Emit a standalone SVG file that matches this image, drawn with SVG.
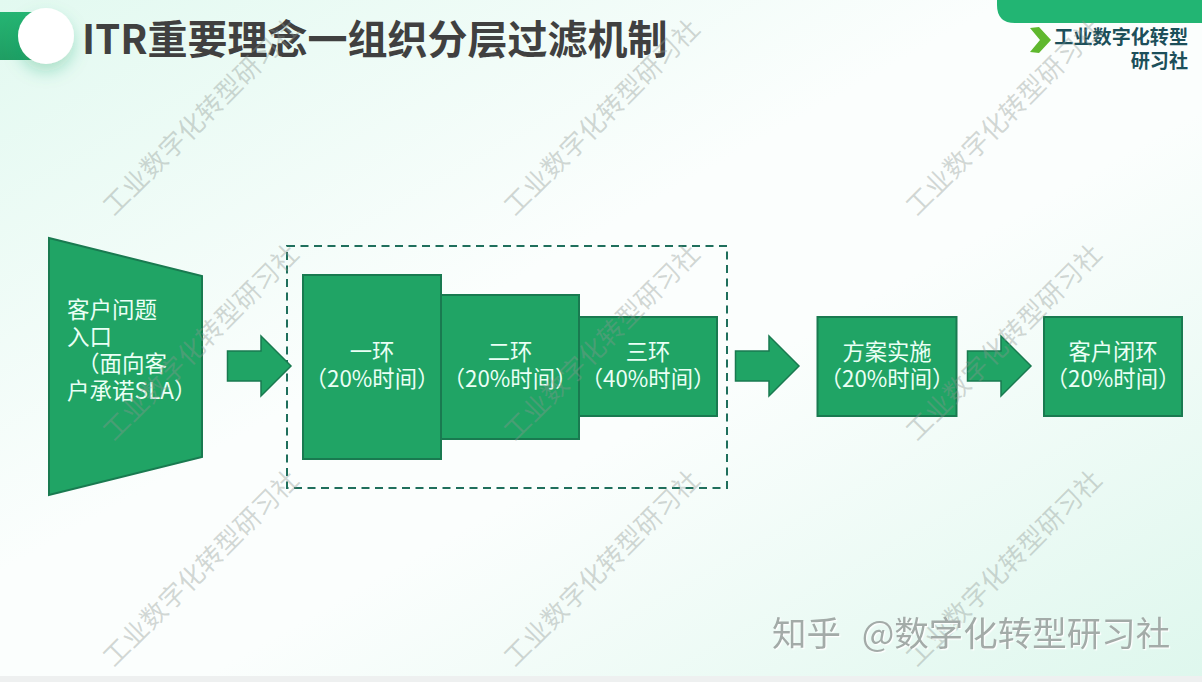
<svg xmlns="http://www.w3.org/2000/svg" width="1202" height="682" viewBox="0 0 1202 682">
  <defs>
    <linearGradient id="bg" x1="0" y1="0" x2="1" y2="1">
      <stop offset="0" stop-color="#e2f9f0"/>
      <stop offset="0.42" stop-color="#fbfefd"/>
      <stop offset="0.58" stop-color="#fbfefd"/>
      <stop offset="1" stop-color="#def7ed"/>
    </linearGradient>
    <linearGradient id="tab" x1="0" y1="0" x2="0" y2="1">
      <stop offset="0" stop-color="#25b573"/>
      <stop offset="1" stop-color="#1f9e63"/>
    </linearGradient>
    <filter id="soft" x="-50%" y="-50%" width="200%" height="220%">
      <feDropShadow dx="0" dy="8" stdDeviation="8" flood-color="#1fa56a" flood-opacity="0.3"/>
    </filter>
    <filter id="emboss" x="-5%" y="-20%" width="110%" height="140%">
      <feDropShadow dx="1.2" dy="1.2" stdDeviation="0.3" flood-color="#ffffff" flood-opacity="0.95"/>
    </filter>
    <style>
      text { font-family: "Noto Sans CJK SC", "Noto Sans", sans-serif; }
      .box { fill: #20a465; stroke: #197a50; stroke-width: 2; }
      .arrow { fill: #20a465; stroke: #197a50; stroke-width: 1.5; }
      .lbl { fill: #eafff5; font-size: 22.3px; text-anchor: middle; }
      .lbll { fill: #eafff5; font-size: 22.5px; }
      .wm { fill: #8d9691; fill-opacity: 0.38; font-size: 26px; letter-spacing: 0.4px; }
      .brand { fill: #1c4f5a; font-size: 19.1px; font-weight: 700; text-anchor: end; }
    </style>
  </defs>

  <rect id="background" width="1202" height="682" fill="url(#bg)"/>
  <rect id="bottom-strip" x="0" y="676" width="1202" height="6" fill="#eef0f0"/>

  <g id="header">
    <rect x="0" y="12" width="40" height="48" fill="url(#tab)"/>
    <circle cx="46" cy="36" r="28" fill="#ffffff" filter="url(#soft)"/>
    <text x="82" y="54" font-size="40" font-weight="700" fill="#404040">ITR重要理念一组织分层过滤机制</text>
  </g>

  <g id="brand">
    <path d="M997 0H1202V23H1015Q997 23 997 5Z" fill="#22b573"/>
    <polygon points="1030,28 1039,27 1051,40 1039,53 1030,52 1040,40" fill="#5fb82e"/>
    <text class="brand" x="1188" y="44">工业数字化转型</text>
    <text class="brand" x="1188" y="68">研习社</text>
  </g>

  <g id="group-frame">
    <rect x="287" y="246" width="440" height="242" fill="none" stroke="#1f6f5c" stroke-width="2" stroke-dasharray="8 5.5"/>
  </g>

  <g id="connectors">
    <polygon class="arrow" points="227.5,351 261,351 261,336 291,366 261,396 261,381 227.5,381"/>
    <polygon class="arrow" points="735.5,351 769,351 769,336 799,366 769,396 769,381 735.5,381"/>
    <polygon class="arrow" points="967.5,351 1001,351 1001,336 1031,366 1001,396 1001,381 967.5,381"/>
  </g>

  <g id="node-entry">
    <polygon class="box" points="49,238 202,276 202,457 49,495"/>
    <text class="lbll" x="67" y="318">客户问题</text>
    <text class="lbll" x="67" y="345">入口</text>
    <text class="lbll" x="67" y="372" xml:space="preserve">  （面向客</text>
    <text class="lbll" x="67" y="399">户承诺SLA）</text>
  </g>
  <g id="node-ring3">
    <rect class="box" x="579" y="317" width="138" height="99"/>
    <text class="lbl" x="648" y="360">三环</text>
    <text class="lbl" x="648" y="387">（40%时间）</text>
  </g>
  <g id="node-ring2">
    <rect class="box" x="441" y="295" width="138" height="144"/>
    <text class="lbl" x="510" y="360">二环</text>
    <text class="lbl" x="510" y="387">（20%时间）</text>
  </g>
  <g id="node-ring1">
    <rect class="box" x="303" y="275" width="138" height="184"/>
    <text class="lbl" x="372" y="360">一环</text>
    <text class="lbl" x="372" y="387">（20%时间）</text>
  </g>
  <g id="node-implement">
    <rect class="box" x="817.500" y="317" width="139" height="99"/>
    <text class="lbl" x="887" y="360">方案实施</text>
    <text class="lbl" x="887" y="387">（20%时间）</text>
  </g>
  <g id="node-close">
    <rect class="box" x="1044" y="317" width="138" height="99"/>
    <text class="lbl" x="1113" y="360">客户闭环</text>
    <text class="lbl" x="1113" y="387">（20%时间）</text>
  </g>

  <g id="watermarks">
    <text class="wm" transform="translate(114,217) rotate(-45)">工业数字化转型研习社</text>
    <text class="wm" transform="translate(515,217) rotate(-45)">工业数字化转型研习社</text>
    <text class="wm" transform="translate(917,217) rotate(-45)">工业数字化转型研习社</text>
    <text class="wm" transform="translate(114,442) rotate(-45)">工业数字化转型研习社</text>
    <text class="wm" transform="translate(515,442) rotate(-45)">工业数字化转型研习社</text>
    <text class="wm" transform="translate(917,442) rotate(-45)">工业数字化转型研习社</text>
    <text class="wm" transform="translate(114,668) rotate(-45)">工业数字化转型研习社</text>
    <text class="wm" transform="translate(515,668) rotate(-45)">工业数字化转型研习社</text>
    <text class="wm" transform="translate(917,668) rotate(-45)">工业数字化转型研习社</text>
  </g>

  <text id="credit" x="772" y="646" font-size="34.500" fill="#a3aba8" filter="url(#emboss)">知乎 <tspan dx="13">@数字化转型研习社</tspan></text>
</svg>
